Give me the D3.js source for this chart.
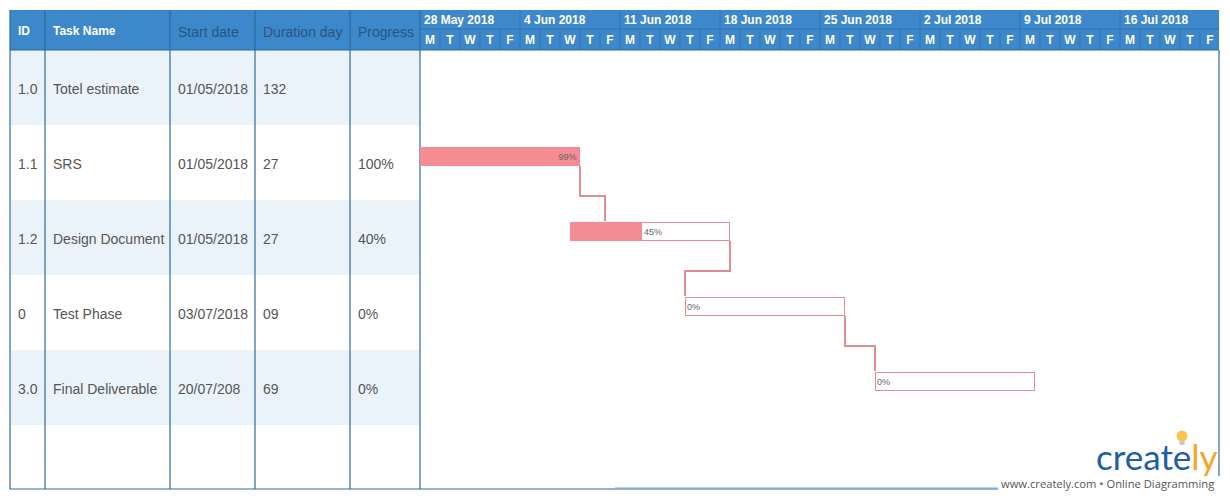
<!DOCTYPE html>
<html>
<head>
<meta charset="utf-8">
<script src="https://cdn.jsdelivr.net/npm/d3@7"></script>
<style>
html,body{margin:0;padding:0;background:#fff;}
svg{display:block;}
</style>
</head>
<body>
<svg id="chart" width="1230" height="500"></svg>
<script>
// ---------- data ----------
const columnHeaders = ["ID", "Task Name", "Start date", "Duration day", "Progress"];
const ids = ["1.0", "1.1", "1.2", "0", "3.0"];
const taskNames = ["Totel estimate", "SRS", "Design Document", "Test Phase", "Final Deliverable"];
const startDates = ["01/05/2018", "01/05/2018", "01/05/2018", "03/07/2018", "20/07/208"];
const durations = ["132", "27", "27", "09", "69"];
const progressLabels = ["", "100%", "40%", "0%", "0%"];
const weekLabels = ["28 May 2018", "4 Jun 2018", "11 Jun 2018", "18 Jun 2018", "25 Jun 2018", "2 Jul 2018", "9 Jul 2018", "16 Jul 2018"];
const dayLetters = ["M", "T", "W", "T", "F"];
// bars (in working-day units from 28 May 2018)
const barRows = [1, 2, 3, 4];
const barStart = [0, 7.5, 13.25, 22.75];
const barEnd = [8, 15.5, 21.25, 30.75];
const barProgress = [0.99, 0.45, 0, 0];
const barLabels = ["99%", "45%", "0%", "0%"];
// dependency arrival day on the next bar
const linkArrive = [9.25, 13.25, 22.75];

// ---------- layout ----------
const svg = d3.select("#chart");
const L = 10, T = 10, R = 1219, B = 489, headH = 40, weekRowH = 19;
const colEdges = [10, 45, 170, 255, 350, 420];
const ganttL = 420, ganttR = 1220;
const nDays = weekLabels.length * dayLetters.length;

const x = d3.scaleLinear().domain([0, nDays]).range([ganttL, ganttR]);
const y = d3.scaleBand().domain(d3.range(6)).range([T + headH, T + headH + 75 * 6]);

const headFill = "#3d88ca", border = "#2f6b9c", sepCol = "#3274b3";
const stripe = "#ebf3fa", textCol = "#555", pink = "#f48c94", pinkLine = "#e58b95";
const font = "'Liberation Sans', Arial, sans-serif";

const defs = svg.append("defs");
defs.append("clipPath").attr("id", "body").append("rect")
  .attr("x", L).attr("y", T + headH).attr("width", R - L).attr("height", B - T - headH);

// row stripes (table part only)
const body = svg.append("g").attr("clip-path", "url(#body)");
body.selectAll("rect.stripe").data(d3.range(6)).join("rect")
  .attr("x", L).attr("width", ganttL - L)
  .attr("y", d => y(d)).attr("height", y.bandwidth())
  .attr("fill", d => d % 2 === 0 ? stripe : "#fff");

// header
svg.append("rect").attr("x", L).attr("y", T).attr("width", R - L).attr("height", headH).attr("fill", headFill);

// table header text
const headColors = ["#fff", "#fff", "#2a5580", "#2a5580", "#2a5580"];
const headWeights = ["bold", "bold", "normal", "normal", "normal"];
const headSizes = [12, 12, 14, 14, 14];
svg.selectAll("text.hd").data(columnHeaders).join("text")
  .attr("x", (d, i) => colEdges[i] + 8).attr("y", (d, i) => T + headH / 2 + (i < 2 ? 0.5 : 1.5))
  .attr("dominant-baseline", "central")
  .attr("font-family", font).attr("font-size", (d, i) => headSizes[i])
  .attr("font-weight", (d, i) => headWeights[i]).attr("fill", (d, i) => headColors[i])
  .text(d => d);

// gantt header: weeks
svg.selectAll("text.wk").data(weekLabels).join("text")
  .attr("x", (d, i) => x(i * dayLetters.length) + 4).attr("y", T + weekRowH / 2)
  .attr("dominant-baseline", "central")
  .attr("font-family", font).attr("font-size", 12).attr("font-weight", "bold").attr("fill", "#fff")
  .text(d => d);
svg.selectAll("line.wksep").data(d3.range(1, weekLabels.length)).join("line")
  .attr("x1", d => x(d * dayLetters.length)).attr("x2", d => x(d * dayLetters.length))
  .attr("y1", T).attr("y2", T + weekRowH).attr("stroke", sepCol).attr("stroke-width", 1);
svg.append("line").attr("x1", ganttL).attr("x2", R).attr("y1", T + weekRowH).attr("y2", T + weekRowH)
  .attr("stroke", sepCol).attr("stroke-width", 1);

// gantt header: days
const days = d3.range(nDays);
svg.selectAll("text.day").data(days).join("text")
  .attr("x", d => (x(d) + x(d + 1)) / 2).attr("y", T + weekRowH + (headH - weekRowH) / 2 + 0.5)
  .attr("dominant-baseline", "central").attr("text-anchor", "middle")
  .attr("font-family", font).attr("font-size", 12).attr("font-weight", "bold").attr("fill", "#fff")
  .text(d => dayLetters[d % dayLetters.length]);
svg.selectAll("line.daysep").data(days.slice(1)).join("line")
  .attr("x1", d => x(d)).attr("x2", d => x(d))
  .attr("y1", T + weekRowH).attr("y2", T + headH).attr("stroke", sepCol).attr("stroke-width", 1);

// table cells
const cols = [ids, taskNames, startDates, durations, progressLabels];
cols.forEach((arr, c) => {
  svg.selectAll("text.c" + c).data(arr).join("text")
    .attr("x", colEdges[c] + 8).attr("y", (d, i) => y(i) + y.bandwidth() / 2 + 1.5)
    .attr("dominant-baseline", "central")
    .attr("font-family", font).attr("font-size", 14).attr("fill", textCol)
    .text(d => d);
});

// column borders
svg.selectAll("line.col").data(colEdges).join("line")
  .attr("x1", d => d).attr("x2", d => d).attr("y1", T).attr("y2", B)
  .attr("stroke", border).attr("stroke-width", 1.2);
svg.append("line").attr("x1", R).attr("x2", R).attr("y1", T + headH).attr("y2", B)
  .attr("stroke", border).attr("stroke-width", 1.2);
svg.append("line").attr("x1", L).attr("x2", R).attr("y1", T + headH).attr("y2", T + headH)
  .attr("stroke", border).attr("stroke-width", 1);
svg.append("line").attr("x1", x(9.75)).attr("x2", 998).attr("y1", B - 1.3).attr("y2", B - 1.3)
  .attr("stroke", "#b9d6f0").attr("stroke-width", 1.3);
svg.append("line").attr("x1", L - 0.6).attr("x2", R + 0.6).attr("y1", B).attr("y2", B)
  .attr("stroke", border).attr("stroke-width", 1.2);

// bars
const barH = 19, barOff = 22;
const bars = barRows.map((r, i) => ({
  row: r, s: barStart[i], e: barEnd[i], p: barProgress[i], label: barLabels[i]
}));
const by = d => y(d.row) + barOff;

// connectors
const links = bars.slice(0, -1).map((b, i) => ({ from: b, to: bars[i + 1], arrive: linkArrive[i] }));
svg.selectAll("path.link").data(links).join("path")
  .attr("fill", "none").attr("stroke", pinkLine).attr("stroke-width", 2)
  .attr("d", d => {
    const x0 = x(d.from.e), y0 = by(d.from) + barH;
    const y1 = by(d.to);
    const ym = (y0 + y1) / 2 + 2;
    const x1 = x(d.arrive);
    return `M${x0},${y0}V${ym}H${x1}V${y1 - 1}`;
  });

svg.selectAll("rect.barbg").data(bars).join("rect")
  .attr("x", d => x(d.s) + 0.5).attr("y", d => by(d) + 0.5)
  .attr("width", d => x(d.e) - x(d.s) - 1).attr("height", barH - 1)
  .attr("fill", d => d.p > 0.95 ? pink : "#fff").attr("stroke", pinkLine).attr("stroke-width", 1);
svg.selectAll("rect.barfg").data(bars.filter(d => d.p > 0)).join("rect")
  .attr("x", d => x(d.s)).attr("y", d => by(d))
  .attr("width", d => (x(d.e) - x(d.s)) * d.p).attr("height", barH)
  .attr("fill", pink);
svg.selectAll("text.bl").data(bars).join("text")
  .attr("x", d => d.p > 0.9 ? x(d.s) + (x(d.e) - x(d.s)) * d.p - 2 : x(d.s) + (x(d.e) - x(d.s)) * d.p + 2)
  .attr("text-anchor", d => d.p > 0.9 ? "end" : "start")
  .attr("y", d => by(d) + barH / 2 + 0.5).attr("dominant-baseline", "central")
  .attr("font-family", font).attr("font-size", 9).attr("fill", "#666")
  .text(d => d.label);

// watermark logo
const logo = svg.append("g");
logo.append("rect").attr("x", 998).attr("y", 476).attr("width", 232).attr("height", 24).attr("fill", "#fff");
const lt = logo.append("text").attr("x", 1096).attr("y", 470)
  .attr("font-family", "Lato, 'Open Sans', sans-serif").attr("font-size", 35).attr("font-weight", "normal");
lt.append("tspan").attr("fill", "#1d5ea8").text("create");
lt.append("tspan").attr("fill", "#f4a62a").text("ly");
logo.append("circle").attr("cx", 1182).attr("cy", 436).attr("r", 5.5).attr("fill", "#f7c64a");
logo.append("rect").attr("x", 1179.5).attr("y", 441).attr("width", 5).attr("height", 4).attr("fill", "#c9c9c9");
logo.append("text").attr("x", 1001).attr("y", 488)
  .attr("font-family", "'Open Sans', sans-serif").attr("font-size", 11.2).attr("fill", "#555")
  .text("www.creately.com • Online Diagramming");
</script>
</body>
</html>
